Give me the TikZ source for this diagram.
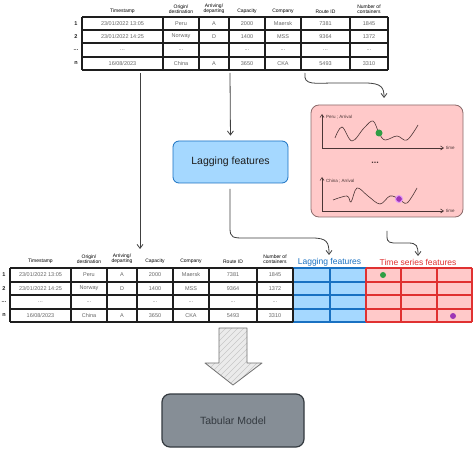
\documentclass[tikz,border=0pt]{standalone}
\usepackage{fontspec}
\setmainfont{Liberation Sans}
\usetikzlibrary{arrows.meta}
\definecolor{lblue}{HTML}{A5D8FF}
\definecolor{dblue}{HTML}{1971C2}
\definecolor{lred}{HTML}{FFC9C9}
\definecolor{dred}{HTML}{E03131}
\definecolor{pborder}{HTML}{8A6A6A}
\definecolor{ink}{HTML}{1E1E1E}
\definecolor{chartink}{HTML}{4A3535}
\definecolor{dgreen}{HTML}{2F9E44}
\definecolor{dpurple}{HTML}{9C36B5}
\definecolor{halo}{HTML}{E599F7}
\definecolor{gbox}{HTML}{868E96}
\definecolor{gborder}{HTML}{343A40}
\newcommand{\toprow}[9]{%
  \node[cell] (#1a) at (122.5,#2) {#3};
  \node[cell] (#1b) at (181,#2) {#4};
  \node[cell] (#1c) at (214,#2) {#5};
  \node[cell] (#1d) at (247,#2) {#6};
  \node[cell] (#1e) at (283,#2) {#7};
  \node[cell] (#1f) at (325.5,#2) {#8};
  \node[cell] (#1g) at (369,#2) {#9};}
\newcommand{\botrow}[9]{%
  \node[cell] (#1a) at (40.5,#2) {#3};
  \node[cell] (#1b) at (89,#2) {#4};
  \node[cell] (#1c) at (122,#2) {#5};
  \node[cell] (#1d) at (155,#2) {#6};
  \node[cell] (#1e) at (191,#2) {#7};
  \node[cell] (#1f) at (233,#2) {#8};
  \node[cell] (#1g) at (275,#2) {#9};}
\begin{document}
\begin{tikzpicture}[x=1pt,y=-1pt,
  tab/.style={draw=ink,line width=1.3pt},
  cell/.style={font=\fontsize{5.5}{6}\selectfont,text=black!60,inner sep=0pt},
  hdr/.style={font=\fontsize{5}{5.5}\selectfont,text=black,align=center,anchor=south,inner sep=1pt},
  rowlab/.style={font=\fontsize{5.5}{6}\selectfont\bfseries,text=ink,inner sep=0pt},
  conn/.style={draw=ink!85,line width=0.8pt,-{Straight Barb[length=4pt,width=6pt]}},
  chart/.style={draw=chartink,line width=0.6pt},
  axis/.style={draw=chartink,line width=0.6pt,-{Straight Barb[length=3pt,width=4pt]}},
  clab/.style={font=\fontsize{4.5}{5}\selectfont,text=chartink,inner sep=0pt},
]
\useasboundingbox[fill=white] (0,0) rectangle (474,449);

% ---------- top table ----------
\foreach \x in {82,163,199,229,265,301,350,388} \draw[tab] (\x,17) -- (\x,70);
\foreach \y in {17,30,43,57,70} \draw[tab] (82,\y) -- (388,\y);
\node[hdr] (th1) at (122.5,15) {Timestamp};
\node[hdr] (th2) at (181,15) {Origin/\\destination};
\node[hdr] (th3) at (214,15) {Arriving/\\departing};
\node[hdr] (th4) at (247,15) {Capacity};
\node[hdr] (th5) at (283,15) {Company};
\node[hdr] (th6) at (325.5,15) {Route ID};
\node[hdr] (th7) at (369,15) {Number of\\containers};
\node[rowlab] (tl1) at (76,23.5) {1};
\node[rowlab] (tl2) at (76,36.5) {2};
\node[rowlab] (tl3) at (76,50) {...};
\node[rowlab] (tl4) at (76,63.5) {n};
\toprow{ta}{23.5}{23/01/2022 13:05}{Peru}{A}{2000}{Maersk}{7381}{1845}
\toprow{tb}{36.5}{23/01/2022 14:25}{Norway}{D}{1400}{MSS}{9364}{1372}
\toprow{tc}{50}{...}{...}{}{...}{...}{...}{...}
\toprow{td}{63.5}{16/08/2023}{China}{A}{3650}{CKA}{5493}{3310}

% ---------- lagging features box ----------
\node[draw=dblue,fill=lblue,line width=0.8pt,rounded corners=6pt,minimum width=115pt,minimum height=42pt,
      font=\fontsize{10.5}{12}\selectfont,text=ink] (lag) at (230.5,162) {Lagging features};

% ---------- time series panel ----------
\node[draw=pborder,fill=lred,line width=0.8pt,rounded corners=8pt,minimum width=152pt,minimum height=112pt] (ts) at (387,161) {};
\draw[axis] (322,148) -- (322,114);
\draw[axis] (322,148) -- (444,148);
\node[clab,anchor=west] (p1) at (326,117) {Peru ; Arrival};
\node[clab,anchor=west] (t1) at (446,148) {time};
\draw[chart] plot[smooth,tension=0.6] coordinates {(335,138) (342,127) (352,141) (364,128) (373,121) (379,133) (385,140) (397,136) (407,140) (418,125)};
\node[circle,fill=dgreen,inner sep=0pt,minimum size=7pt] (gdot) at (379,133) {};
\node[font=\fontsize{9}{10}\selectfont\bfseries,text=chartink,inner sep=0pt] (dots) at (375,163) {...};
\draw[axis] (322,211) -- (322,177);
\draw[axis] (322,211) -- (444,211);
\node[clab,anchor=west] (p2) at (326,181) {China ; Arrival};
\node[clab,anchor=west] (t2) at (446,211) {time};
\draw[chart] plot[smooth,tension=0.6] coordinates {(333,200) (347,196) (351,202) (357,188) (368,196) (380,204) (390,196) (399,199) (407,203) (417,188)};
\node[circle,fill=dpurple,draw=halo,line width=1pt,inner sep=0pt,minimum size=7pt] (pdot) at (399,199) {};

% ---------- bottom table ----------
\fill[lblue] (293,268) rectangle (366,322);
\foreach \x in {293,330,366} \draw[draw=dblue,line width=1.1pt] (\x,268) -- (\x,322);
\foreach \y in {268,282,295,309,322} \draw[draw=dblue,line width=1.1pt] (293,\y) -- (366,\y);
\fill[lred] (366,268) rectangle (472,322);
\foreach \x in {366,401,437,472} \draw[draw=dred,line width=1.1pt] (\x,268) -- (\x,322);
\foreach \y in {268,282,295,309,322} \draw[draw=dred,line width=1.1pt] (366,\y) -- (472,\y);
\foreach \x in {10,71,107,137,173,209,257,293} \draw[tab] (\x,268) -- (\x,322);
\foreach \y in {268,282,295,309,322} \draw[tab] (10,\y) -- (293,\y);
\node[hdr] (bh1) at (40.5,265) {Timestamp};
\node[hdr] (bh2) at (89,265) {Origin/\\destination};
\node[hdr] (bh3) at (122,265) {Arriving/\\departing};
\node[hdr] (bh4) at (155,265) {Capacity};
\node[hdr] (bh5) at (191,265) {Company};
\node[hdr] (bh6) at (233,265) {Route ID};
\node[hdr] (bh7) at (275,265) {Number of\\containers};
\node[font=\fontsize{8.5}{9}\selectfont,text=dblue,anchor=south,inner sep=1pt] (lagl) at (329.5,267) {Lagging features};
\node[font=\fontsize{8.5}{9}\selectfont,text=dred,anchor=south,inner sep=1pt] (tsl) at (418,267) {Time series features};
\node[rowlab] (bl1) at (4,275) {1};
\node[rowlab] (bl2) at (4,288.5) {2};
\node[rowlab] (bl3) at (4,302) {...};
\node[rowlab] (bl4) at (4,315.5) {n};
\botrow{ba}{275}{23/01/2022 13:05}{Peru}{A}{2000}{Maersk}{7381}{1845}
\botrow{bb}{288.5}{23/01/2022 14:25}{Norway}{D}{1400}{MSS}{9364}{1372}
\botrow{bc}{302}{...}{...}{}{...}{...}{...}{...}
\botrow{bd}{315.5}{16/08/2023}{China}{A}{3650}{CKA}{5493}{3310}
\node[circle,fill=dgreen,inner sep=0pt,minimum size=6pt] (gdot2) at (383,275) {};
\node[circle,fill=dpurple,inner sep=0pt,minimum size=6pt] (pdot2) at (453,316) {};

% ---------- connectors ----------
\coordinate (s1) at (140,73);
\coordinate (e1) at (140,249);
\coordinate (s2) at (230,73);
\coordinate (s3) at (305,73);
\coordinate (e3) at (384,98);
\coordinate (s4) at (230,189);
\coordinate (e4) at (329,255);
\coordinate (s5) at (387,231);
\coordinate (e5) at (418,256);
\draw[conn] (s1) -- (e1);
\draw[conn,shorten >=5pt] (s2) -- (lag.north);
\draw[conn] (s3) .. controls (303,86) and (315,83) .. (335,83) -- (365,83) .. controls (382,83) and (384,88) .. (e3);
\draw[conn] (s4) -- (230,228) .. controls (230,238) and (233,238) .. (245,238) -- (312,238) .. controls (327,238) and (329,242) .. (e4);
\draw[conn] (s5) -- (387,236) .. controls (387,243) and (390,243) .. (398,243) -- (408,243) .. controls (417,243) and (418,246) .. (e5);

% ---------- big hollow arrow ----------
\begin{scope}
\path[clip] (219,328) -- (247,328) -- (247,363) -- (262,363) -- (233,385) -- (205,363) -- (219,363) -- cycle;
\fill[black!8] (200,325) rectangle (265,390);
\foreach \k in {-60,-54,...,60} \draw[black!22,line width=0.4pt] (200+\k,390) -- (265+\k,325);
\end{scope}
\draw[draw=black!55,line width=0.8pt,line join=round] (219,328) -- (247,328) -- (247,363) -- (262,363) -- (233,385) -- (205,363) -- (219,363) -- cycle;

% ---------- tabular model ----------
\node[draw=gborder,fill=gbox,line width=1.2pt,rounded corners=8pt,minimum width=142pt,minimum height=53pt,
      font=\fontsize{10.5}{12}\selectfont,text=gborder] (tm) at (233,420.5) {Tabular Model};
\end{tikzpicture}
\end{document}
